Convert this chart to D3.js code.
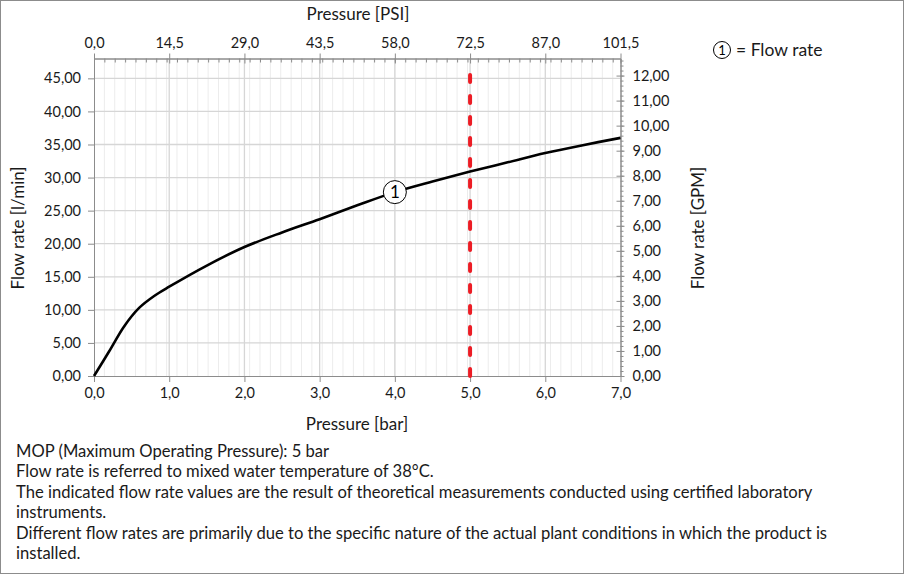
<!DOCTYPE html>
<html>
<head>
<meta charset="utf-8">
<script src="https://cdn.jsdelivr.net/npm/d3@7"></script>
<style>
  body { margin: 0; background: #fff; }
  svg { display: block; font-family: Lato, "Open Sans", sans-serif; }
  .axis path, .axis line { stroke: #8c8c8c; }
  .axis text { fill: #1a1a1a; font-size: 14.5px; font-family: Lato, sans-serif; }
</style>
</head>
<body>
<div id="chart"></div>
<script>
// chart data
const pressureBar = [0, 0.2, 0.4, 0.6, 0.8, 1.0, 1.5, 2.0, 2.5, 3.0, 3.5, 4.0, 4.5, 5.0, 5.5, 6.0, 6.5, 7.0];
const flowLmin    = [0, 3.7, 7.5, 10.3, 12.1, 13.5, 16.7, 19.5, 21.7, 23.7, 25.8, 27.8, 29.4, 30.9, 32.3, 33.7, 34.9, 36.0];
const xTicksBar = [0, 1, 2, 3, 4, 5, 6, 7];
const xTicksPsi = [0, 14.5, 29, 43.5, 58, 72.5, 87, 101.5];
const yTicksLmin = [0, 5, 10, 15, 20, 25, 30, 35, 40, 45];
const yTicksGpm = [0, 1, 2, 3, 4, 5, 6, 7, 8, 9, 10, 11, 12];
const mopBar = 5;
const labelAt = 4.0;
const noteLines = [
  "MOP (Maximum Operating Pressure): 5 bar",
  "Flow rate is referred to mixed water temperature of 38°C.",
  "The indicated flow rate values are the result of theoretical measurements conducted using certified laboratory",
  "instruments.",
  "Different flow rates are primarily due to the specific nature of the actual plant conditions in which the product is",
  "installed."
];

const W = 904, H = 574;
const plot = { left: 94, right: 620.5, top: 58.5, bottom: 376 };
const L_PER_GAL = 3.785;
const yMax = 48;

const svg = d3.select("#chart").append("svg").attr("width", W).attr("height", H);
svg.append("rect").attr("x", 0.5).attr("y", 0.5).attr("width", W - 1).attr("height", H - 1)
  .attr("fill", "#fff").attr("stroke", "#8c8c8c");

const x = d3.scaleLinear().domain([0, 7]).range([plot.left, plot.right]);
const xPsi = d3.scaleLinear().domain([0, 101.5]).range([plot.left, plot.right]);
const y = d3.scaleLinear().domain([0, yMax]).range([plot.bottom, plot.top]);
const yGpm = d3.scaleLinear().domain([0, yMax / L_PER_GAL]).range([plot.bottom, plot.top]);

const fmt1 = d => d.toFixed(1).replace(".", ",");
const fmt2 = d => d.toFixed(2).replace(".", ",");

// grid
const grid = svg.append("g");
const minorPsi = d3.range(2, 101.5, 2);
grid.selectAll(".vminor").data(minorPsi).enter().append("line")
  .attr("x1", d => xPsi(d)).attr("x2", d => xPsi(d))
  .attr("y1", plot.top).attr("y2", plot.bottom)
  .attr("stroke", "#ececec").attr("stroke-width", 1);
grid.selectAll(".vmajor").data(xTicksBar.slice(1, -1)).enter().append("line")
  .attr("x1", d => x(d)).attr("x2", d => x(d))
  .attr("y1", plot.top).attr("y2", plot.bottom)
  .attr("stroke", "#d6d6d6").attr("stroke-width", 1.3);
grid.selectAll(".hmajor").data(yTicksLmin.slice(1)).enter().append("line")
  .attr("x1", plot.left).attr("x2", plot.right)
  .attr("y1", d => y(d)).attr("y2", d => y(d))
  .attr("stroke", "#d6d6d6").attr("stroke-width", 1.3);

// axes
svg.append("g").attr("class", "axis")
  .attr("transform", `translate(0,${plot.bottom})`)
  .call(d3.axisBottom(x).tickValues(xTicksBar).tickFormat(fmt1).tickSize(6).tickSizeOuter(0).tickPadding(6));

svg.append("g").attr("class", "axis")
  .attr("transform", `translate(${plot.left},0)`)
  .call(d3.axisLeft(y).tickValues(yTicksLmin).tickFormat(fmt2).tickSize(6).tickSizeOuter(0).tickPadding(7));

svg.append("g").attr("class", "axis")
  .attr("transform", `translate(0,${plot.top})`)
  .call(d3.axisTop(xPsi).tickValues(minorPsi).tickFormat("").tickSize(-4).tickSizeOuter(0));
const gTop = svg.append("g").attr("class", "axis")
  .attr("transform", `translate(0,${plot.top})`)
  .call(d3.axisTop(xPsi).tickValues(xTicksPsi).tickFormat(fmt1).tickSize(5).tickSizeOuter(0).tickPadding(6));
gTop.selectAll(".tick line").attr("y2", -5).attr("y1", 5);

svg.append("g").attr("class", "axis")
  .attr("transform", `translate(${plot.right},0)`)
  .call(d3.axisRight(yGpm).tickValues(d3.range(0, 12.61, 0.2)).tickFormat("").tickSize(3).tickSizeOuter(0));
const gRight = svg.append("g").attr("class", "axis")
  .attr("transform", `translate(${plot.right},0)`)
  .call(d3.axisRight(yGpm).tickValues(yTicksGpm).tickFormat(fmt2).tickSize(4).tickSizeOuter(0).tickPadding(8));
gRight.selectAll(".tick line").attr("x1", -4);

// axis titles
const title = (tr, s) => svg.append("text").attr("transform", tr).attr("text-anchor", "middle")
  .attr("font-size", 17).attr("fill", "#1a1a1a").text(s);
title("translate(358,20)", "Pressure [PSI]");
title("translate(357,430)", "Pressure [bar]");
title("translate(24,228) rotate(-90)", "Flow rate [l/min]");
title("translate(704,228) rotate(-90)", "Flow rate [GPM]");

// MOP line
svg.append("line")
  .attr("x1", x(mopBar)).attr("x2", x(mopBar))
  .attr("y1", y(0)).attr("y2", y(46.5))
  .attr("stroke", "#ec1c24").attr("stroke-width", 4)
  .attr("stroke-linecap", "round").attr("stroke-dasharray", "7,14");

// curve
const pts = pressureBar.map((p, i) => [p, flowLmin[i]]);
svg.append("path").datum(pts)
  .attr("fill", "none").attr("stroke", "#000").attr("stroke-width", 2.6)
  .attr("d", d3.line().x(d => x(d[0])).y(d => y(d[1])).curve(d3.curveCatmullRom));

// curve label
const li = pressureBar.indexOf(labelAt);
const lab = svg.append("g").attr("transform", `translate(${x(labelAt)},${y(flowLmin[li])})`);
lab.append("circle").attr("r", 11.5).attr("fill", "#fff").attr("stroke", "#000").attr("stroke-width", 1);
lab.append("text").attr("text-anchor", "middle").attr("dy", "0.36em").attr("font-size", 17).text("1");

// legend
const leg = svg.append("g").attr("transform", "translate(722,50)");
leg.append("circle").attr("r", 8.5).attr("fill", "#fff").attr("stroke", "#000").attr("stroke-width", 1);
leg.append("text").attr("text-anchor", "middle").attr("dy", "0.36em").attr("font-size", 13).text("1");
leg.append("text").attr("x", 14).attr("dy", "0.36em").attr("font-size", 17.5).attr("fill", "#1a1a1a").text("= Flow rate");

// notes
svg.append("g").selectAll("text").data(noteLines).enter().append("text")
  .attr("x", 16).attr("y", (d, i) => 457 + i * 20.4)
  .attr("font-size", 16.6).attr("fill", "#1a1a1a").text(d => d);
</script>
</body>
</html>
